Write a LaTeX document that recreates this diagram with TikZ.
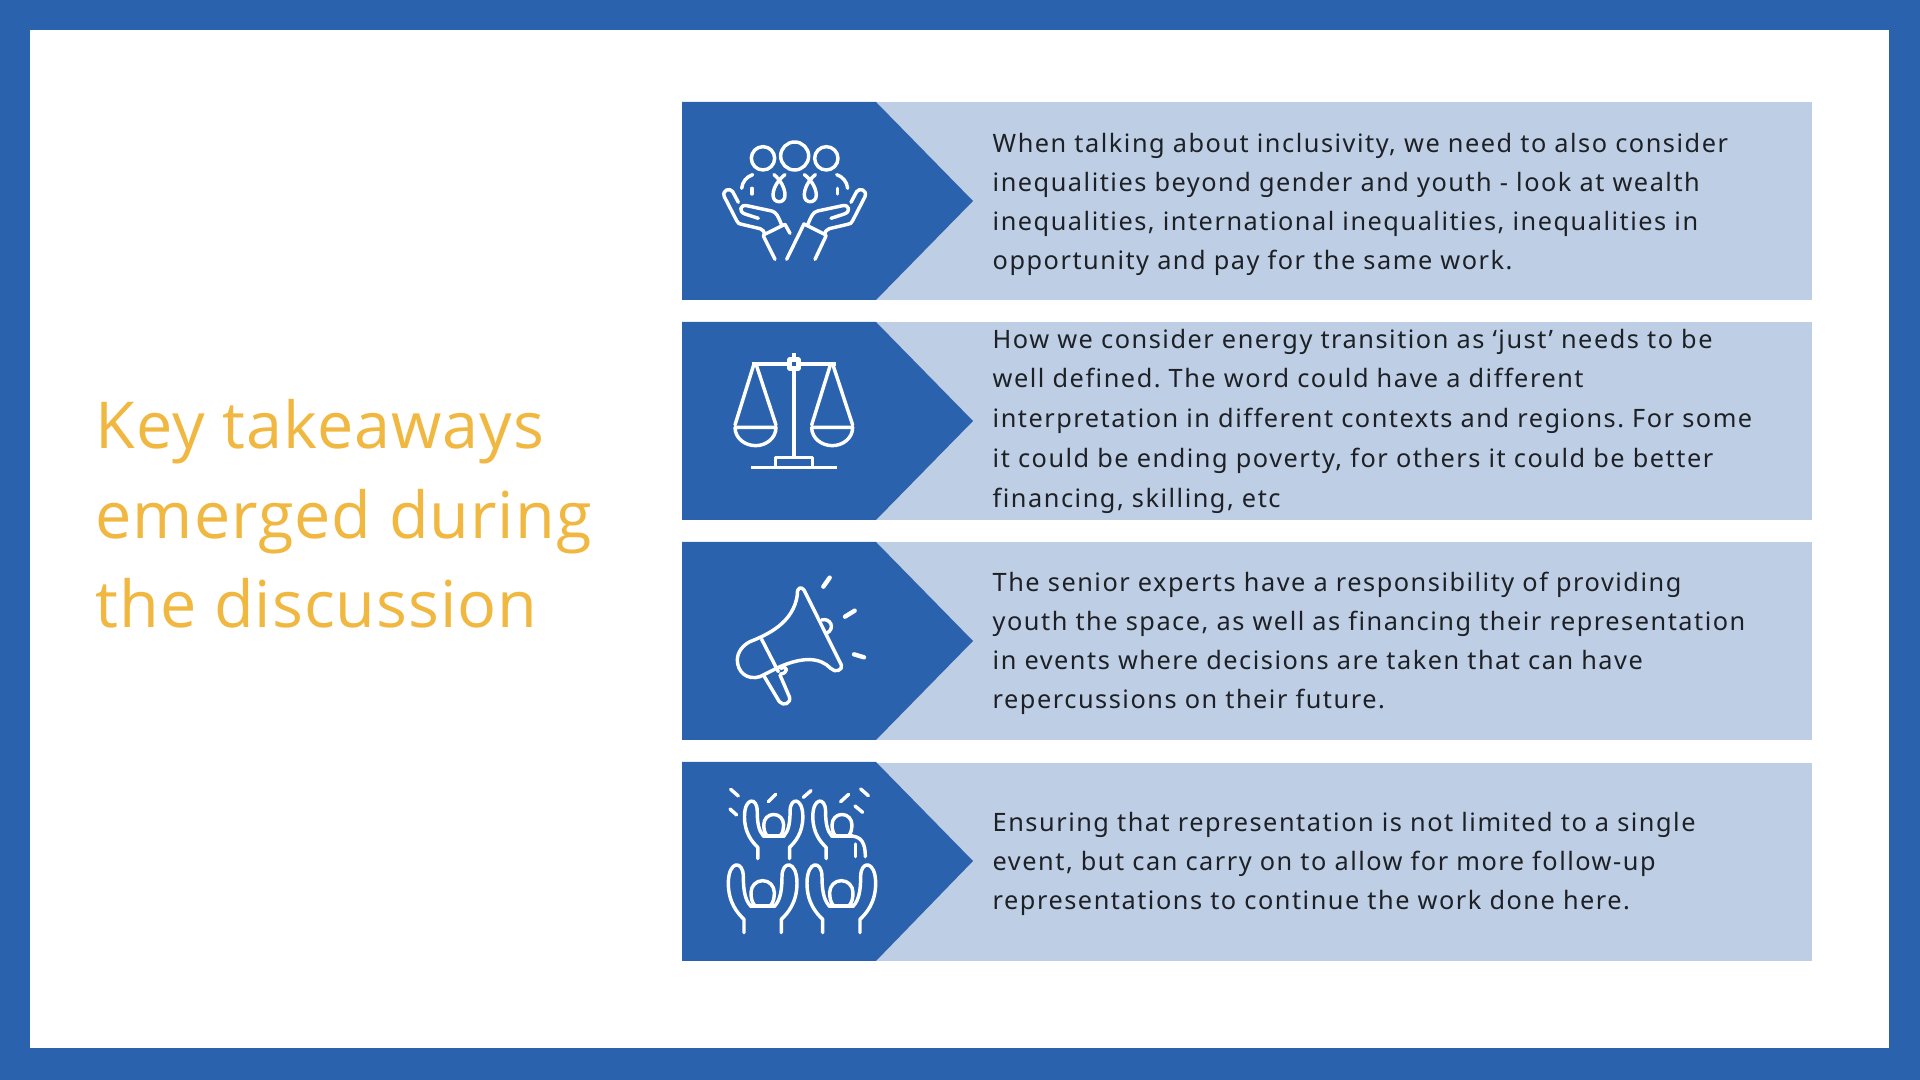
\documentclass[tikz,border=0pt]{standalone}
\usepackage{fontspec}
\setmainfont{Noto Sans}
\newfontfamily\headfont[LetterSpace=1.5]{Open Sans}
\newfontfamily\bodyfont[LetterSpace=6,Ligatures=NoCommon]{Noto Sans}
\usepackage{tikz}
\definecolor{frameblue}{HTML}{2A62AD}
\definecolor{panelblue}{HTML}{BECEE5}
\definecolor{headgold}{HTML}{F0B840}
\definecolor{bodyink}{HTML}{1D2126}
\tikzset{
  iconline/.style={draw=white, line width=0.98pt, line cap=round, line join=round},
  rayline/.style={draw=white, line width=1.25pt, line cap=round},
  bodytext/.style={anchor=west, align=left, inner sep=0pt, text=bodyink, font=\bodyfont\frenchspacing\fontsize{7.2}{11.1}\selectfont},
  headtext/.style={anchor=west, align=left, inner sep=0pt, text=headgold, font=\headfont\fontsize{18.4}{25.5}\selectfont}
}
\newcommand{\cheerarm}{
  \draw[iconline] (-56, 80) -- (-56, 40) .. controls (-75, 22) and (-103, -10) .. (-103, -68)
    .. controls (-103, -138) and (-58, -138) .. (-58, -88) .. controls (-58, -48) and (-53, -18) .. (-36, 0);
}
\newcommand{\cheerhead}{
  \draw[iconline] (-36, 0) -- (36, 0);
  \draw[iconline] (-24, -2) .. controls (-32, -10) and (-35, -25) .. (-35, -40) .. controls (-35, -60) and (-20, -76) .. (0, -76)
    .. controls (20, -76) and (35, -60) .. (35, -40) .. controls (35, -25) and (32, -10) .. (24, -2);
}
\begin{document}
\begin{tikzpicture}[x=0.01cm, y=-0.01cm]
  \useasboundingbox (0, 0) rectangle (1920, 1080);
  \fill[frameblue] (0, 0) rectangle (1920, 1080);
  \fill[white] (30, 30) rectangle (1889, 1048);
  % panels
  \fill[panelblue] (682, 102) rectangle (1812, 300);
  \fill[panelblue] (682, 322) rectangle (1812, 520);
  \fill[panelblue] (682, 542) rectangle (1812, 740);
  \fill[panelblue] (682, 763) rectangle (1812, 961);
  \fill[frameblue] (682, 102) -- (876, 102) -- (973, 201) -- (876, 300) -- (682, 300) -- cycle;
  \fill[frameblue] (682, 322) -- (876, 322) -- (973, 421) -- (876, 520) -- (682, 520) -- cycle;
  \fill[frameblue] (682, 542) -- (876, 542) -- (973, 641) -- (876, 740) -- (682, 740) -- cycle;
  \fill[frameblue] (682, 762) -- (876, 762) -- (973, 861) -- (876, 961) -- (682, 961) -- cycle;
  % texts
  \node[headtext] (heading) at (95, 514) {Key takeaways\\emerged during\\the discussion};
  \node[bodytext] (takeaway1) at (992, 204) {When talking about inclusivity, we need to also consider\\inequalities beyond gender and youth - look at wealth\\inequalities, international inequalities, inequalities in\\opportunity and pay for the same work.};
  \node[bodytext, font=\bodyfont\frenchspacing\fontsize{7.2}{11.3}\selectfont] (takeaway2) at (992, 421) {How we consider energy transition as ‘just’ needs to be\\well defined. The word could have a different\\interpretation in different contexts and regions. For some\\it could be ending poverty, for others it could be better\\financing, skilling, etc};
  \node[bodytext] (takeaway3) at (992, 643) {The senior experts have a responsibility of providing\\youth the space, as well as financing their representation\\in events where decisions are taken that can have\\repercussions on their future.};
  \node[bodytext] (takeaway4) at (992, 864) {Ensuring that representation is not limited to a single\\event, but can carry on to allow for more follow-up\\representations to continue the work done here.};
  % people in hands
  \begin{scope}[shift={(680, 100)}, scale=1/3]
    \draw[iconline] (249, 175) circle (35);
    \draw[iconline] (344, 168) circle (42);
    \draw[iconline] (439, 175) circle (35);
    \foreach \side/\mid in {1/0, -1/688} {
      \begin{scope}[shift={(\mid, 0)}, xscale=\side]
        \draw[iconline] (185, 265) .. controls (187, 245) and (200, 230) .. (218, 224);
        \draw[iconline] (216, 265) -- (216, 282);
        \draw[iconline] (315, 224) .. controls (300, 235) and (280, 258) .. (279, 285)
          .. controls (279, 312) and (316, 312) .. (315, 285) .. controls (315, 265) and (302, 240) .. (282, 224);
        \draw[iconline] (175, 307) -- (158, 275) .. controls (150, 262) and (125, 270) .. (133, 290)
          -- (170, 362) .. controls (173, 370) and (178, 372) .. (185, 373) -- (240, 386) .. controls (248, 388) and (252, 395) .. (255, 402);
        \draw[iconline] (235, 355) -- (195, 342) .. controls (175, 335) and (180, 313) .. (200, 317)
          -- (275, 333) .. controls (290, 337) and (295, 350) .. (305, 375);
      \end{scope}
    }
    \draw[iconline] (250, 405) -- (315, 373) -- (330, 400);
    \draw[iconline] (250, 408) -- (285, 478);
    \draw[iconline] (438, 405) -- (372, 372) -- (320, 478);
    \draw[iconline] (438, 408) -- (405, 478);
  \end{scope}
  % scales
  \begin{scope}[shift={(680, 320)}, scale=1/3]
    \draw[iconline, line cap=butt] (217, 132) -- (467, 132);
    \draw[iconline, line cap=butt, line width=1.3pt, fill=frameblue] (329, 119) rectangle (355, 145);
    \draw[iconline, line cap=butt] (342, 100) -- (342, 115);
    \draw[iconline, line cap=butt] (342, 149) -- (342, 412);
    \draw[iconline, line cap=butt] (287, 438) -- (287, 413) -- (398, 413) -- (398, 438);
    \draw[iconline, line cap=butt] (214, 442) -- (470, 442);
    \draw[iconline] (222, 132) -- (165, 315);
    \draw[iconline] (228, 132) -- (288, 315);
    \draw[iconline] (165, 322) -- (288, 322) .. controls (288, 355) and (258, 377) .. (227, 377) .. controls (195, 377) and (165, 355) .. (165, 322);
    \draw[iconline] (452, 132) -- (395, 315);
    \draw[iconline] (458, 132) -- (518, 315);
    \draw[iconline] (395, 322) -- (518, 322) .. controls (518, 355) and (488, 377) .. (457, 377) .. controls (425, 377) and (395, 355) .. (395, 322);
  \end{scope}
  % megaphone
  \begin{scope}[shift={(680, 540)}, scale=1/3]
    \draw[iconline] (372, 150) -- (484, 375) .. controls (490, 390) and (465, 400) .. (452, 385)
      .. controls (420, 352) and (370, 350) .. (300, 380) -- (240, 410) .. controls (200, 422) and (172, 395) .. (172, 360)
      .. controls (172, 335) and (190, 315) .. (210, 305) .. controls (260, 285) and (340, 250) .. (352, 165)
      .. controls (350, 140) and (365, 140) .. (372, 150);
    \draw[iconline] (245, 298) -- (295, 395);
    \draw[iconline] (252, 408) -- (298, 485) .. controls (310, 500) and (335, 490) .. (328, 470) -- (300, 405);
    \draw[iconline] (302, 385) .. controls (325, 375) and (325, 400) .. (302, 402);
    \draw[iconline] (425, 240) .. controls (450, 232) and (468, 265) .. (440, 280);
    \draw[rayline] (430, 140) -- (449, 113);
    \draw[rayline] (495, 230) -- (524, 212);
    \draw[rayline] (522, 343) -- (552, 352);
  \end{scope}
  % cheering people
  \begin{scope}[shift={(680, 760)}, scale=1/3]
    \begin{scope}[shift={(248, 438)}]
      \cheerarm
      \begin{scope}[xscale=-1] \cheerarm \end{scope}
      \cheerhead
    \end{scope}
    \begin{scope}[shift={(484, 438)}]
      \cheerarm
      \begin{scope}[xscale=-1] \cheerarm \end{scope}
      \cheerhead
    \end{scope}
    \begin{scope}[shift={(281, 228)}, scale=0.85]
      \cheerarm
      \begin{scope}[xscale=-1] \cheerarm \end{scope}
      \cheerhead
    \end{scope}
    \begin{scope}[shift={(486, 228)}, scale=0.85]
      \cheerarm
      \cheerhead
    \end{scope}
    \draw[iconline] (510, 228) .. controls (545, 228) and (556, 250) .. (556, 290);
    \draw[iconline] (527, 252) -- (527, 290);
    \draw[iconline] (152, 88) -- (175, 108);
    \draw[iconline] (150, 147) -- (170, 165);
    \draw[iconline] (265, 125) -- (287, 103);
    \draw[iconline] (370, 112) -- (393, 92);
    \draw[iconline] (482, 125) -- (506, 103);
    \draw[iconline] (542, 87) -- (565, 107);
    \draw[iconline] (525, 138) -- (548, 157);
  \end{scope}
\end{tikzpicture}
\end{document}
